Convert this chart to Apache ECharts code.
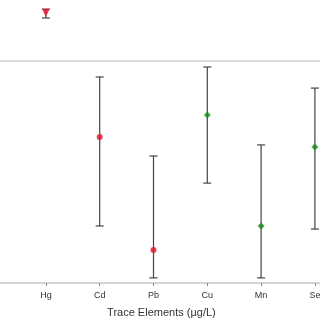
<!DOCTYPE html>
<html lang="en">
<head>
    <meta charset="UTF-8">
    <title>Trace elements</title>
    <script src="https://cdn.jsdelivr.net/npm/echarts@6/dist/echarts.min.js"></script>
    <style>
        html, body { margin: 0; padding: 0; background: #fff; }
    </style>
</head>
<body>
<div id="main" style="width:320px;height:320px"></div>
<script>
    // values (y axis has no labels, so arbitrary 0-100 units)
    let categories = ['Hg', 'Cd', 'Pb', 'Cu', 'Mn', 'Se'];
    let groups = ['red', 'red', 'red', 'green', 'green', 'green'];
    // Hg sits in its own upper panel with a different scale
    let hgMean = [79];
    let hgLow = [70.5];
    let hgHigh = [85];
    let lowerCats = ['Cd', 'Pb', 'Cu', 'Mn', 'Se'];
    let means = [65.8, 14.9, 75.7, 25.7, 61.3];
    let lows = [25.7, 2.3, 45.0, 2.3, 24.3];
    let highs = [92.8, 57.2, 97.3, 62.2, 87.8];

    // padding categories so the axis runs edge to edge
    let axisCats = [''].concat(categories, ['']);

    function errorBars(params, api) {
        let x = api.value(0);
        let lo = api.coord([x, api.value(1)]);
        let hi = api.coord([x, api.value(2)]);
        let half = 4;
        let st = {stroke: '#444', lineWidth: 1.2};
        return {
            type: 'group',
            children: [
                {type: 'line', shape: {x1: lo[0], y1: lo[1], x2: hi[0], y2: hi[1]}, style: st},
                {type: 'line', shape: {x1: hi[0] - half, y1: hi[1], x2: hi[0] + half, y2: hi[1]}, style: st},
                {type: 'line', shape: {x1: lo[0] - half, y1: lo[1], x2: lo[0] + half, y2: lo[1]}, style: st}
            ]
        };
    }

    let upperBars = ['Hg'].map((c, i) => [c, hgLow[i], hgHigh[i]]);
    let lowerBars = lowerCats.map((c, i) => [c, lows[i], highs[i]]);
    let redPts = [], greenPts = [];
    lowerCats.forEach((c, i) => {
        let g = groups[categories.indexOf(c)];
        (g === 'red' ? redPts : greenPts).push([c, means[i]]);
    });

    let mychart = echarts.init(document.getElementById('main'));
    let option = {
        animation: false,
        grid: [
            {left: -34.8, right: -75.6, top: 0, height: 61, outerBoundsMode: 'none', containLabel: false},
            {left: -34.8, right: -75.6, top: 61, bottom: 37, outerBoundsMode: 'none', containLabel: false}
        ],
        xAxis: [
            {
                type: 'category', gridIndex: 0, data: axisCats,
                axisLine: {lineStyle: {color: '#cfcfcf', width: 1.5}},
                axisTick: {show: false}, axisLabel: {show: false}
            },
            {
                type: 'category', gridIndex: 1, data: axisCats,
                axisLine: {lineStyle: {color: '#c4c4c4', width: 1.5}},
                axisTick: {show: true, alignWithLabel: true, length: 3, lineStyle: {color: '#888'}},
                axisLabel: {color: '#333', fontSize: 9, fontFamily: 'Arial, Liberation Sans', margin: 8},
                name: 'Trace Elements (\u00b5g/L)',
                nameLocation: 'middle',
                nameGap: 24,
                nameTextStyle: {color: '#333', fontSize: 11, fontFamily: 'Arial, Liberation Sans', padding: [0, 38, 0, 0]}
            }
        ],
        yAxis: [
            {type: 'value', gridIndex: 0, min: 0, max: 100, show: false},
            {type: 'value', gridIndex: 1, min: 0, max: 100, show: false}
        ],
        series: [
            {type: 'custom', xAxisIndex: 0, yAxisIndex: 0, renderItem: errorBars, data: upperBars, z: 2},
            {type: 'custom', xAxisIndex: 1, yAxisIndex: 1, renderItem: errorBars, data: lowerBars, z: 2},
            {
                type: 'scatter', xAxisIndex: 0, yAxisIndex: 0, z: 3,
                symbol: 'triangle', symbolRotate: 180, symbolSize: 8,
                itemStyle: {color: '#e8102a'},
                data: ['Hg'].map((c, i) => [c, hgMean[i]])
            },
            {
                type: 'scatter', xAxisIndex: 1, yAxisIndex: 1, z: 3,
                symbol: 'circle', symbolSize: 6,
                itemStyle: {color: '#e8102a'},
                data: redPts
            },
            {
                type: 'scatter', xAxisIndex: 1, yAxisIndex: 1, z: 3,
                symbol: 'diamond', symbolSize: 7,
                itemStyle: {color: '#1a8a1a'},
                data: greenPts
            }
        ]
    };
    mychart.setOption(option);
</script>
</body>
</html>
